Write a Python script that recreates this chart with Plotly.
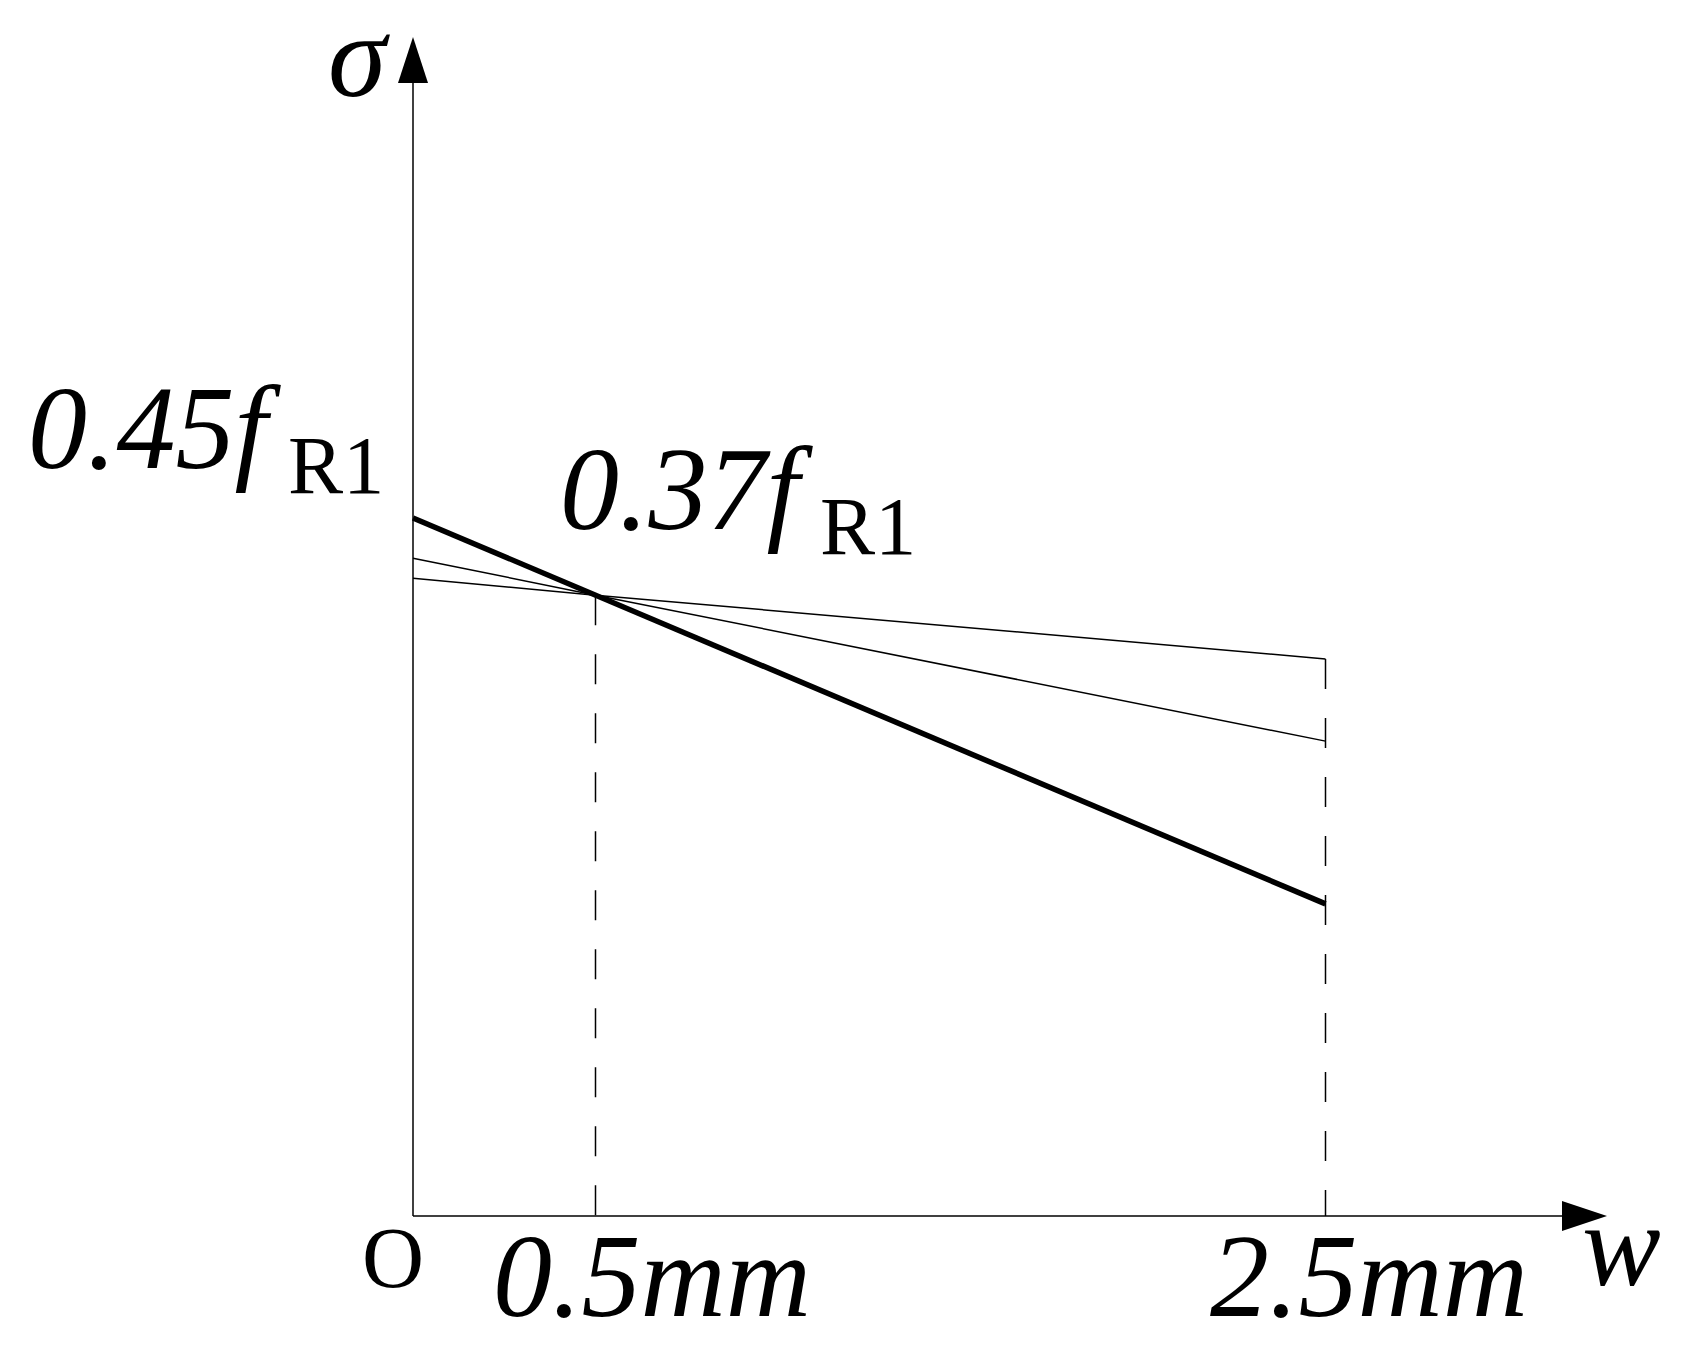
import plotly.graph_objects as go

# crack opening w (mm) and the three softening branches of sigma
w_mm = [0, 0.5, 2.5]
sigma_thick = [0.416, 0.370, 0.186]
sigma_mid = [0.392, 0.370, 0.283]
sigma_flat = [0.380, 0.370, 0.332]

# page geometry: the plot area fills the page, the origin sits at (413, 1216)
W, H = 1694, 1348
X0_PX, Y0_PX = 413, 1216
PX_PER_MM = 365
PX_PER_SIGMA = 1678

x_range = [-X0_PX / PX_PER_MM, (W - X0_PX) / PX_PER_MM]
y_range = [-(H - Y0_PX) / PX_PER_SIGMA, Y0_PX / PX_PER_SIGMA]
x_tip = (1607 - X0_PX) / PX_PER_MM
y_tip = (Y0_PX - 37) / PX_PER_SIGMA

FONT = "Times New Roman, Liberation Serif, Times, serif"
BIG = 118

fig = go.Figure()

# dashed guides from the curves down to the w axis
for xi, yi in [(w_mm[1], sigma_thick[1]), (w_mm[2], sigma_flat[2])]:
    fig.add_trace(go.Scatter(x=[xi, xi], y=[yi, 0], mode="lines",
                             line=dict(color="black", width=1.5, dash="30px,29px"),
                             hoverinfo="skip"))

fig.add_trace(go.Scatter(x=w_mm, y=sigma_flat, mode="lines",
                         line=dict(color="black", width=1.5)))
fig.add_trace(go.Scatter(x=w_mm, y=sigma_mid, mode="lines",
                         line=dict(color="black", width=1.5)))
fig.add_trace(go.Scatter(x=w_mm, y=sigma_thick, mode="lines",
                         line=dict(color="black", width=5.5)))

# axes with arrowheads
fig.add_shape(type="line", x0=0, y0=0, x1=x_tip - 0.05, y1=0,
              line=dict(color="black", width=1.5))
fig.add_shape(type="line", x0=0, y0=0, x1=0, y1=y_tip - 0.02,
              line=dict(color="black", width=1.5))
fig.add_shape(type="path", xsizemode="pixel", ysizemode="pixel",
              xanchor=x_tip, yanchor=0, path="M0,0 L-45,15 L-45,-15 Z",
              fillcolor="black", line=dict(color="black", width=0))
fig.add_shape(type="path", xsizemode="pixel", ysizemode="pixel",
              xanchor=0, yanchor=y_tip, path="M0,0 L-15,-46 L15,-46 Z",
              fillcolor="black", line=dict(color="black", width=0))


def label(text, left, base, size, extra=0):
    # left edge and baseline in page pixels
    bottom = base + 0.216 * size + 1 + extra
    fig.add_annotation(text=text, xref="paper", yref="paper",
                       x=left / W, y=1 - bottom / H,
                       xanchor="left", yanchor="bottom", showarrow=False,
                       font=dict(family=FONT, size=size, color="black"))


label("<i>σ</i>", 326, 98, BIG)
label("<i>0.45f</i><sub>\u00a0R1</sub>", 26, 462, BIG, extra=25)
label("<i>0.37f</i><sub>\u00a0R1</sub>", 558, 523, BIG, extra=25)
label("O", 360, 1288, 86)
label("<i>0.5mm</i>", 491, 1318, BIG)
label("<i>2.5mm</i>", 1208, 1318, BIG)
label("<i>w</i>", 1580, 1287, BIG)

fig.update_layout(
    width=W, height=H,
    margin=dict(l=0, r=0, t=0, b=0),
    paper_bgcolor="white", plot_bgcolor="white",
    showlegend=False,
    xaxis=dict(range=x_range, visible=False, fixedrange=True),
    yaxis=dict(range=y_range, visible=False, fixedrange=True),
)

fig.write_html("out.html", config={"displayModeBar": False},
               post_script="document.body.style.margin='0';")
